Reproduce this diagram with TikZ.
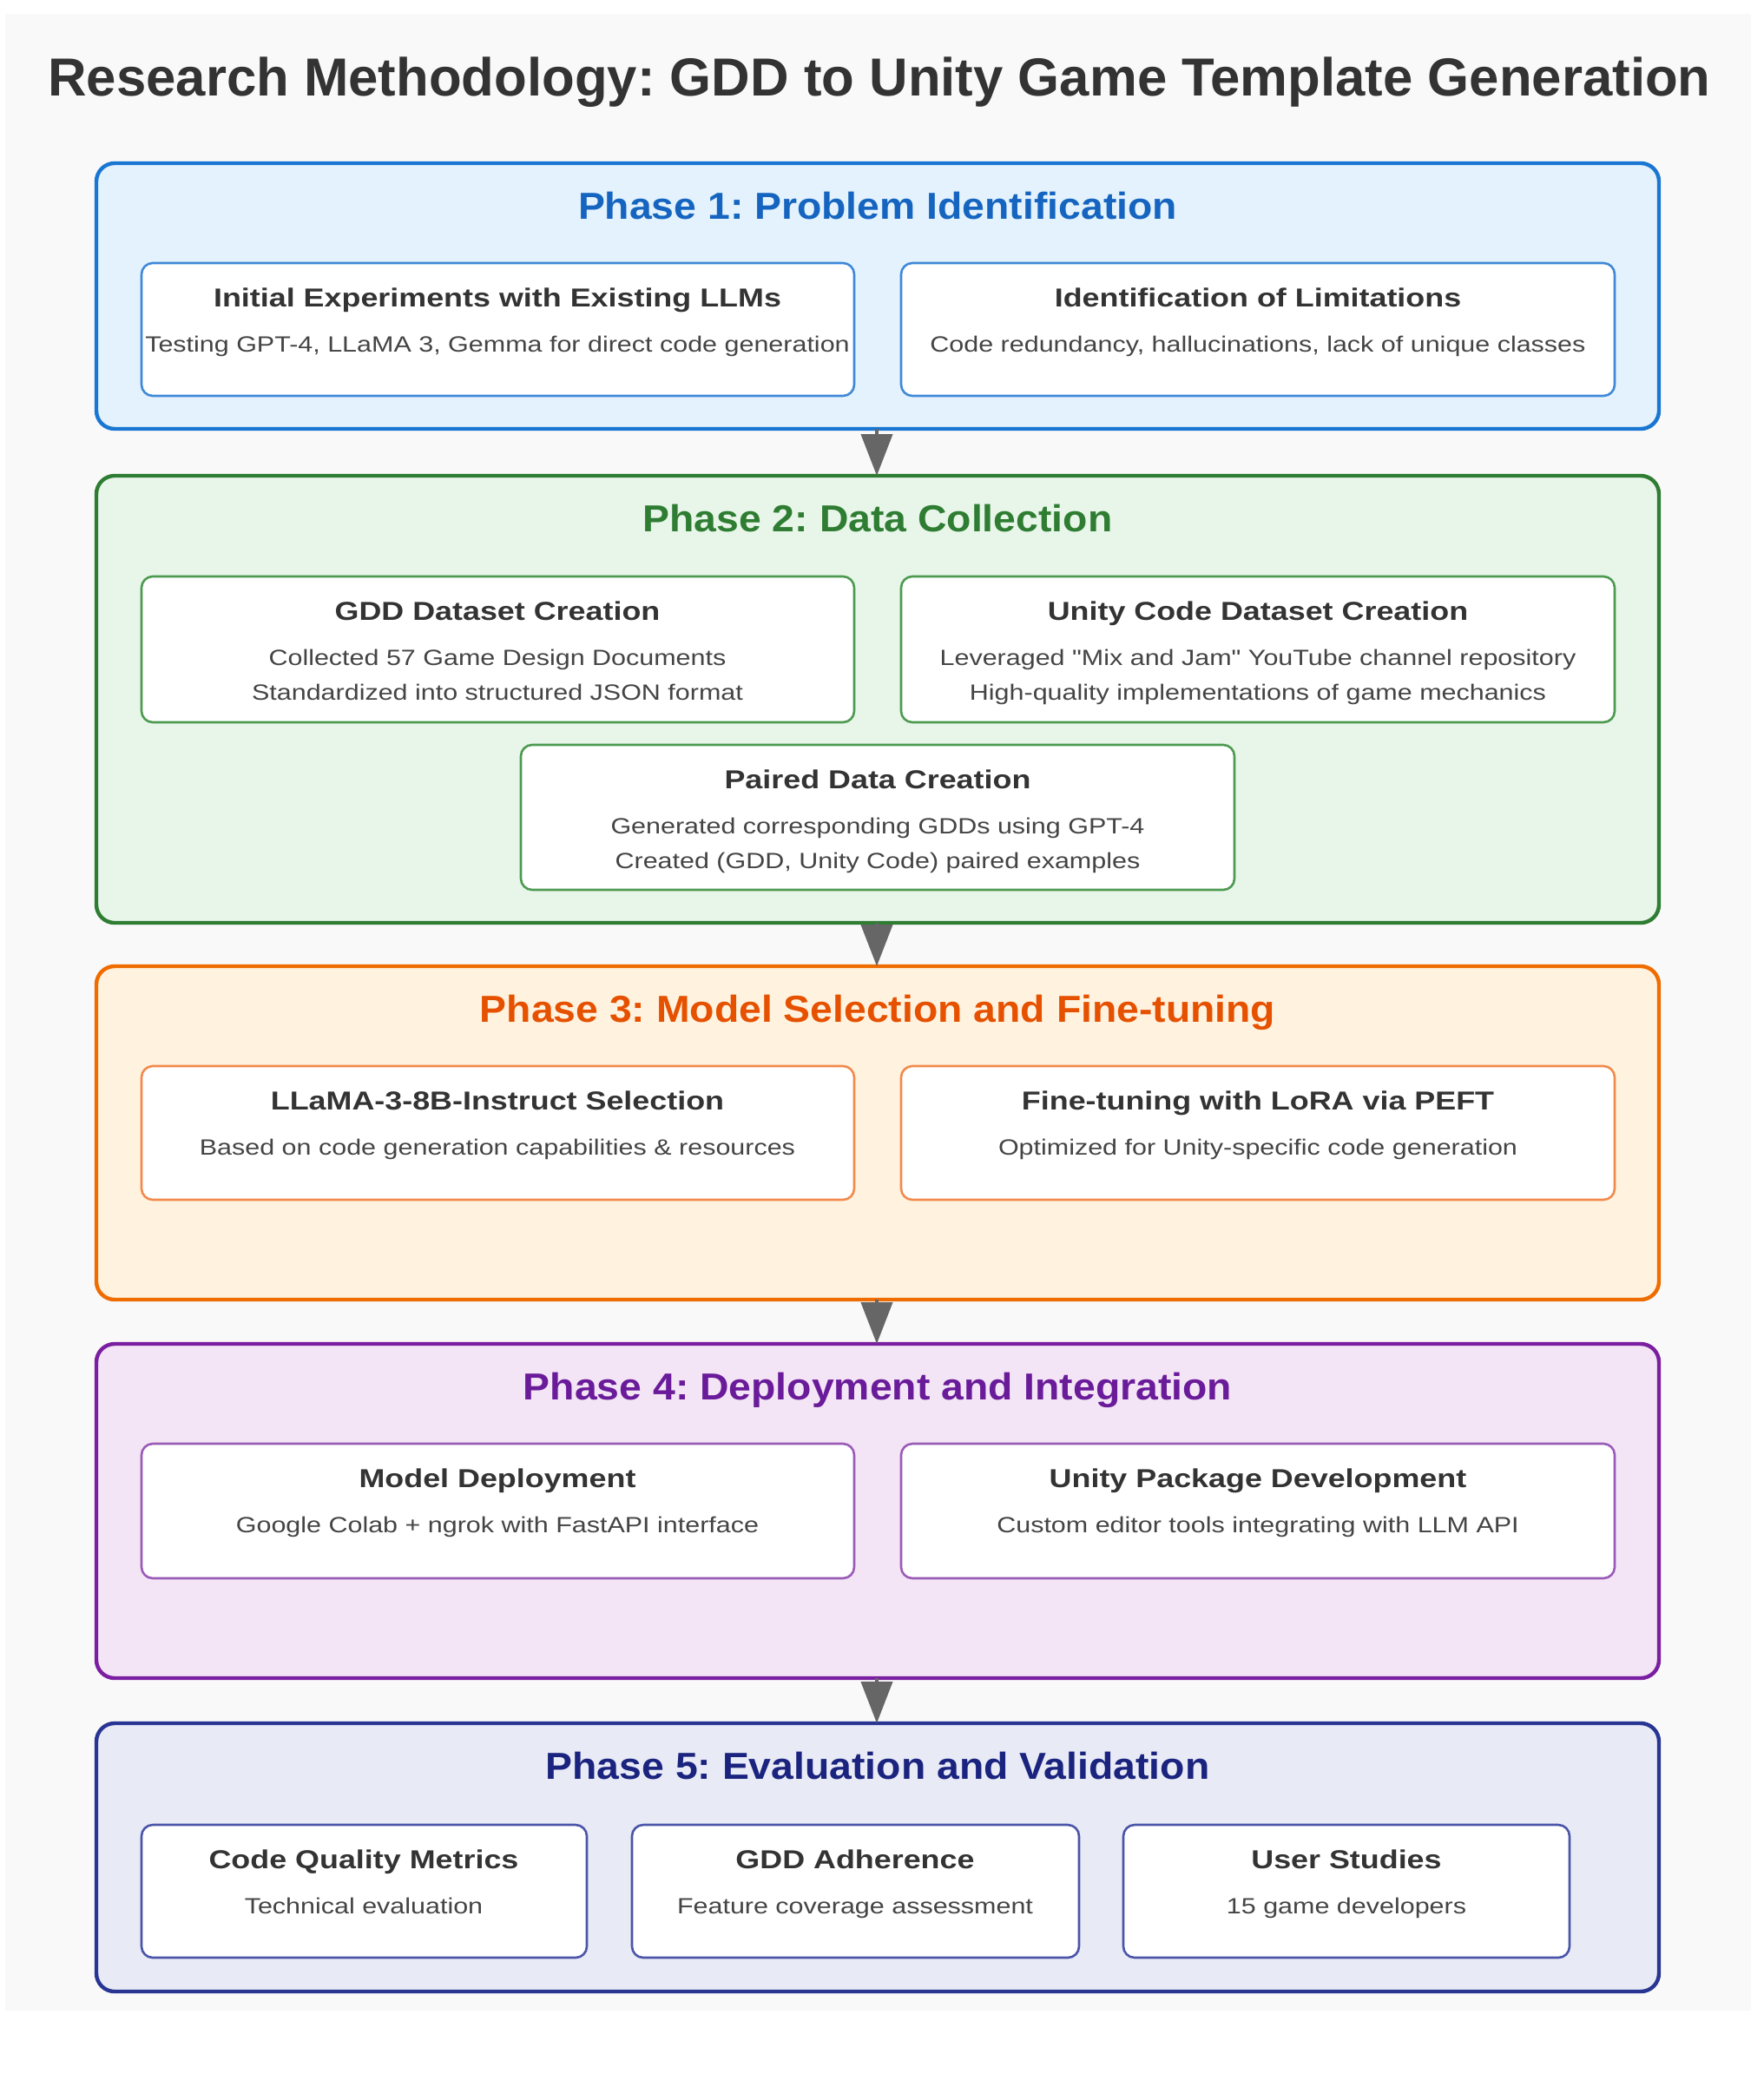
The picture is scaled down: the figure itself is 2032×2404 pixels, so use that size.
\documentclass[tikz,border=0pt]{standalone}
\usepackage{fontspec}
\setmainfont{Liberation Sans}
\newfontfamily\titlefont{Liberation Sans}
\newfontfamily\phasefont[FakeStretch=1.07]{Liberation Sans}
\newfontfamily\boxfont[FakeStretch=1.2]{Liberation Sans}
\usetikzlibrary{arrows.meta,fit}
\frenchspacing
\definecolor{bgcol}{HTML}{F9F9F9}
\definecolor{tcol}{HTML}{333333}
\definecolor{dcol}{HTML}{444444}
\definecolor{arrcol}{HTML}{666666}
\definecolor{aT}{HTML}{1565C0}\definecolor{aB}{HTML}{1976D2}\definecolor{aF}{HTML}{E3F2FD}\definecolor{aI}{HTML}{3F88D8}
\definecolor{bT}{HTML}{2E7D32}\definecolor{bB}{HTML}{2E7D32}\definecolor{bF}{HTML}{E8F5E9}\definecolor{bI}{HTML}{4C9A50}
\definecolor{cT}{HTML}{E65100}\definecolor{cB}{HTML}{EF6C00}\definecolor{cF}{HTML}{FFF3E0}\definecolor{cI}{HTML}{F28A4C}
\definecolor{dT}{HTML}{6A1B9A}\definecolor{dB}{HTML}{7B1FA2}\definecolor{dF}{HTML}{F3E5F5}\definecolor{dI}{HTML}{9A5BB8}
\definecolor{eT}{HTML}{1A237E}\definecolor{eB}{HTML}{283593}\definecolor{eF}{HTML}{E8EAF6}\definecolor{eI}{HTML}{4A55A8}
\begin{document}
\frenchspacing
\begin{tikzpicture}[x=0.5pt,y=-0.5pt,
  phase/.style={draw, rounded corners=10.5pt, line width=2.2pt, inner sep=0pt, outer sep=0pt},
  inbox/.style={draw, fill=white, rounded corners=6.5pt, line width=1.3pt, inner sep=0pt, outer sep=0pt},
  maintitle/.style={anchor=base, inner sep=0pt, text=tcol, font=\titlefont\bfseries\fontsize{30.85}{36}\selectfont},
  ptitle/.style={anchor=base, inner sep=0pt, font=\phasefont\bfseries\fontsize{21.65}{26}\selectfont},
  btitle/.style={anchor=base, inner sep=0pt, text=tcol, font=\boxfont\bfseries\fontsize{14.95}{18}\selectfont},
  bdesc/.style={anchor=base, inner sep=0pt, text=dcol, font=\boxfont\fontsize{12.7}{15}\selectfont},
  arr/.style={draw=arrcol, line width=2pt, -{Triangle[length=24pt,width=18pt]}}
]
\useasboundingbox (0,0) rectangle (2032,2404);
\fill[bgcol] (6,16) rectangle (2017,2316);

\node[maintitle] (title) at (1013,110) {Research Methodology: GDD to Unity Game Template Generation};

% Phase 1
\node[phase, draw=aB, fill=aF, fit={(111,188)(1911,494)}] (P1) {};
\node[ptitle, text=aT] (P1t) at (1011,252) {Phase 1: Problem Identification};
\node[inbox, draw=aI, fit={(163,303)(984,456)}] (A1) {};
\node[inbox, draw=aI, fit={(1038,303)(1860,456)}] (A2) {};
\node[btitle] (A1t) at (573,353) {Initial Experiments with Existing LLMs};
\node[bdesc] (A1d) at (573,405) {Testing GPT-4, LLaMA 3, Gemma for direct code generation};
\node[btitle] (A2t) at (1449,353) {Identification of Limitations};
\node[bdesc] (A2d) at (1449,405) {Code redundancy, hallucinations, lack of unique classes};

% Phase 2
\node[phase, draw=bB, fill=bF, fit={(111,548)(1911,1063)}] (P2) {};
\node[ptitle, text=bT] (P2t) at (1011,612) {Phase 2: Data Collection};
\node[inbox, draw=bI, fit={(163,664)(984,832)}] (B1) {};
\node[inbox, draw=bI, fit={(1038,664)(1860,832)}] (B2) {};
\node[inbox, draw=bI, fit={(600,858)(1422,1025)}] (B3) {};
\node[btitle] (B1t) at (573,714) {GDD Dataset Creation};
\node[bdesc] (B1d) at (573,766) {Collected 57 Game Design Documents};
\node[bdesc] (B1e) at (573,806) {Standardized into structured JSON format};
\node[btitle] (B2t) at (1449,714) {Unity Code Dataset Creation};
\node[bdesc] (B2d) at (1449,766) {Leveraged "Mix and Jam" YouTube channel repository};
\node[bdesc] (B2e) at (1449,806) {High-quality implementations of game mechanics};
\node[btitle] (B3t) at (1011,908) {Paired Data Creation};
\node[bdesc] (B3d) at (1011,960) {Generated corresponding GDDs using GPT-4};
\node[bdesc] (B3e) at (1011,1000) {Created (GDD, Unity Code) paired examples};

% Phase 3
\node[phase, draw=cB, fill=cF, fit={(111,1113)(1911,1497)}] (P3) {};
\node[ptitle, text=cT] (P3t) at (1011,1177) {Phase 3: Model Selection and Fine-tuning};
\node[inbox, draw=cI, fit={(163,1228)(984,1382)}] (C1) {};
\node[inbox, draw=cI, fit={(1038,1228)(1860,1382)}] (C2) {};
\node[btitle] (C1t) at (573,1278) {LLaMA-3-8B-Instruct Selection};
\node[bdesc] (C1d) at (573,1330) {Based on code generation capabilities \& resources};
\node[btitle] (C2t) at (1449,1278) {Fine-tuning with LoRA via PEFT};
\node[bdesc] (C2d) at (1449,1330) {Optimized for Unity-specific code generation};

% Phase 4
\node[phase, draw=dB, fill=dF, fit={(111,1548)(1911,1933)}] (P4) {};
\node[ptitle, text=dT] (P4t) at (1011,1612) {Phase 4: Deployment and Integration};
\node[inbox, draw=dI, fit={(163,1663)(984,1818)}] (D1) {};
\node[inbox, draw=dI, fit={(1038,1663)(1860,1818)}] (D2) {};
\node[btitle] (D1t) at (573,1713) {Model Deployment};
\node[bdesc] (D1d) at (573,1765) {Google Colab + ngrok with FastAPI interface};
\node[btitle] (D2t) at (1449,1713) {Unity Package Development};
\node[bdesc] (D2d) at (1449,1765) {Custom editor tools integrating with LLM API};

% Phase 5
\node[phase, draw=eB, fill=eF, fit={(111,1985)(1911,2294)}] (P5) {};
\node[ptitle, text=eT] (P5t) at (1011,2049) {Phase 5: Evaluation and Validation};
\node[inbox, draw=eI, fit={(163,2102)(676,2255)}] (E1) {};
\node[inbox, draw=eI, fit={(728,2102)(1243,2255)}] (E2) {};
\node[inbox, draw=eI, fit={(1294,2102)(1808,2255)}] (E3) {};
\node[btitle] (E1t) at (419,2152) {Code Quality Metrics};
\node[bdesc] (E1d) at (419,2204) {Technical evaluation};
\node[btitle] (E2t) at (985,2152) {GDD Adherence};
\node[bdesc] (E2d) at (985,2204) {Feature coverage assessment};
\node[btitle] (E3t) at (1551,2152) {User Studies};
\node[bdesc] (E3d) at (1551,2204) {15 game developers};

% Arrows
\draw[arr] ([xshift=-0.5pt]P1.south) -- ([xshift=-0.5pt]P2.north);
\draw[arr] ([xshift=-0.5pt]P2.south) -- ([xshift=-0.5pt]P3.north);
\draw[arr] ([xshift=-0.5pt]P3.south) -- ([xshift=-0.5pt]P4.north);
\draw[arr] ([xshift=-0.5pt]P4.south) -- ([xshift=-0.5pt]P5.north);
\end{tikzpicture}
\end{document}
